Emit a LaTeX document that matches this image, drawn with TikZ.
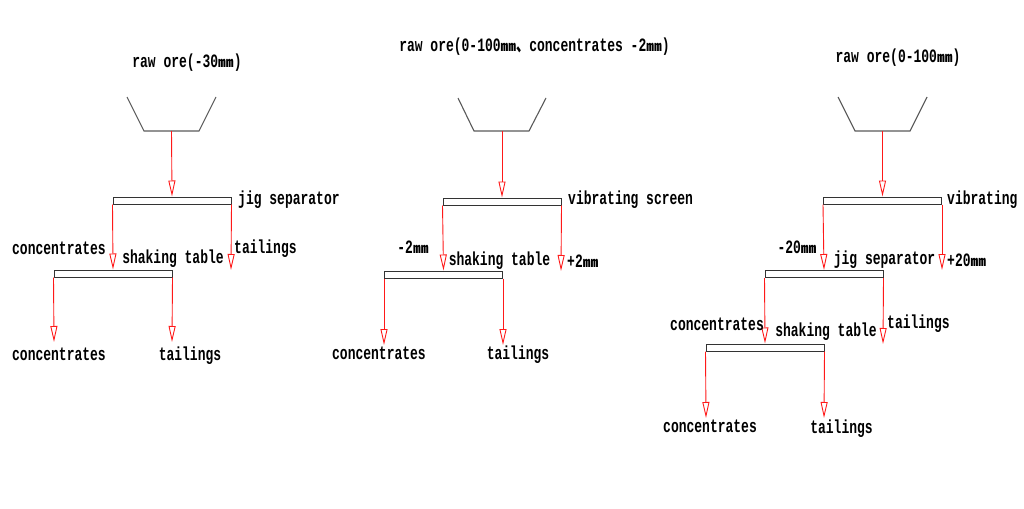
\documentclass[tikz,border=0pt]{standalone}
\usepackage{graphicx}
\usepackage{fontspec}
\setmonofont{Liberation Mono}
\newfontfamily\cjk{Noto Sans CJK SC}
\usetikzlibrary{arrows.meta}
\newcommand{\mmu}{\scalebox{1.2}[0.75]{\cjk\fontsize{13}{13}\selectfont ㎜}}
\newcommand{\dun}{{\cjk 、}}
\newcommand{\tx}[1]{\scalebox{1}[1.45]{#1}}
\begin{document}
\begin{tikzpicture}[x=1pt,y=-1pt,
		every node/.style={inner sep=0pt,font=\ttfamily\bfseries\fontsize{13}{13}\selectfont},
		bar/.style={draw=black!80,fill=white,line width=1pt,minimum width=118pt,minimum height=7pt},
		hopper/.style={draw=black!65,line width=1.1pt},
		flow/.style={draw=red!90,line width=0.9pt,-{Triangle[open,length=16pt,width=7pt]}}]
		\useasboundingbox (0,0) rectangle (1024,508);
		% left: jig separator + shaking table
		\node (ttlA) at (187,63) {\tx{raw ore(-30\mmu)}};
		\draw [hopper] (127,97) -- (144,131) -- (199,131) -- (216,97);
		\coordinate (hAo) at (171.5,131);
		\node [bar] (jigA) at (172,200.5) {};
		\node [anchor=west] (jigAl) at (238,200) {\tx{jig separator}};
		\node [bar] (shkA) at (113,273.5) {};
		\node (shkAl) at (173,259) {\tx{shaking table}};
		\coordinate (tlA) at (231,270);
		\draw [flow] (hAo) -- (jigA.north);
		\draw [flow] (jigA.south west) -- (shkA.north);
		\draw [flow] (jigA.south east) -- (tlA);
		\node (cnA) at (59,248) {\tx{concentrates}};
		\node [anchor=west] (tlAl) at (234,249) {\tx{tailings}};
		\coordinate (cnA2) at (54,342);
		\coordinate (tlA2) at (172,342);
		\draw [flow] (shkA.south west) -- (cnA2);
		\draw [flow] (shkA.south east) -- (tlA2);
		\node (cnA2l) at (59,354) {\tx{concentrates}};
		\node (tlA2l) at (190,356) {\tx{tailings}};
		% middle: vibrating screen + shaking table
		\node (ttlB) at (534.5,47) {\tx{raw ore(0-100\mmu\dun concentrates -2\mmu)}};
		\draw [hopper] (458,98) -- (474,131) -- (529,131) -- (546,98);
		\coordinate (hBo) at (502,131);
		\node [bar] (scrB) at (502,201.5) {};
		\node [anchor=west] (scrBl) at (568,200) {\tx{vibrating screen}};
		\node [bar] (shkB) at (443.5,274.5) {};
		\node (shkBl) at (499.5,261) {\tx{shaking table}};
		\coordinate (ovB) at (561,271);
		\draw [flow] (hBo) -- (scrB.north);
		\draw [flow] (scrB.south west) -- (shkB.north);
		\draw [flow] (scrB.south east) -- (ovB);
		\node (unBl) at (413,247) {\tx{-2\mmu}};
		\node [anchor=west] (ovBl) at (567,261) {\tx{+2\mmu}};
		\coordinate (cnB) at (384,345);
		\coordinate (tlB) at (503,345);
		\draw [flow] (shkB.south west) -- (cnB);
		\draw [flow] (shkB.south east) -- (tlB);
		\node (cnBl) at (379,353) {\tx{concentrates}};
		\node (tlBl) at (518,355) {\tx{tailings}};
		% right: vibrating + jig separator + shaking table
		\node (ttlC) at (898,58) {\tx{raw ore(0-100\mmu)}};
		\draw [hopper] (838,97) -- (855,131) -- (910,131) -- (927,97);
		\coordinate (hCo) at (882.5,131);
		\node [bar] (scrC) at (882.5,200.5) {};
		\node [anchor=west] (scrCl) at (947,200) {\tx{vibrating}};
		\node [bar] (jigC) at (824,274) {};
		\node (jigCl) at (884.5,260) {\tx{jig separator}};
		\coordinate (ovC) at (942,270);
		\draw [flow] (hCo) -- (scrC.north);
		\draw [flow] (scrC.south west) -- (jigC.north);
		\draw [flow] (scrC.south east) -- (ovC);
		\node (unCl) at (797,247) {\tx{-20\mmu}};
		\node [anchor=west] (ovCl) at (947,260) {\tx{+20\mmu}};
		\node [bar] (shkC) at (765,347.5) {};
		\node (shkCl) at (826,332) {\tx{shaking table}};
		\coordinate (tlC) at (883,344);
		\draw [flow] (jigC.south west) -- (shkC.north);
		\draw [flow] (jigC.south east) -- (tlC);
		\node (cnCl) at (717,324) {\tx{concentrates}};
		\node [anchor=west] (tlCl) at (887,324) {\tx{tailings}};
		\coordinate (cnC2) at (706,418);
		\coordinate (tlC2) at (824,418);
		\draw [flow] (shkC.south west) -- (cnC2);
		\draw [flow] (shkC.south east) -- (tlC2);
		\node (cnC2l) at (710,426) {\tx{concentrates}};
		\node (tlC2l) at (841.5,429) {\tx{tailings}};
	\end{tikzpicture}
\end{document}
